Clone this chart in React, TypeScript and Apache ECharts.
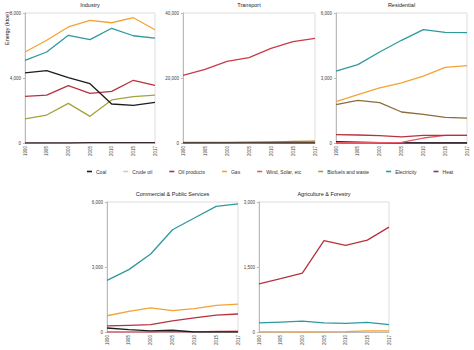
import React, { useEffect, useRef } from "react";
import * as echarts from "echarts";

const years = ["1990", "1995", "2000", "2005", "2010", "2015", "2017"];
const seriesNames = ["Coal", "Crude oil", "Oil products", "Gas", "Wind, Solar, etc", "Biofuels and waste", "Electricity", "Heat"];
const colors = ["#1c1c1c", "#cfcfbf", "#b8323e", "#f5a235", "#e35a68", "#a5a23a", "#2e9a9b", "#7b3f73"];

const panelTitles = ["Industry", "Transport", "Residential", "Commercial & Public Services", "Agriculture & Forestry"];
const yMax = [8000, 40000, 6000, 6000, 3000];

// Industry
const indCoal = [4310, 4450, 4020, 3650, 2400, 2320, 2500];
const indCrude = [20, 10, 0, 0, 0, 0, 0];
const indOil = [2870, 2950, 3530, 3060, 3180, 3860, 3550];
const indGas = [5600, 6320, 7140, 7550, 7400, 7710, 6970];
const indBio = [1480, 1720, 2440, 1640, 2650, 2850, 2950];
const indElec = [5090, 5600, 6630, 6360, 7060, 6600, 6460];
const indHeat = [0, 0, 0, 20, 20, 20, 20];

// Transport
const traCoal = [50, 30, 20, 10, 0, 0, 0];
const traOil = [20800, 22650, 25100, 26300, 29100, 31200, 32200];
const traGas = [0, 0, 20, 60, 80, 100, 120];
const traBio = [0, 0, 0, 100, 300, 500, 550];
const traElec = [150, 170, 200, 250, 260, 270, 300];

// Residential
const resCoal = [60, 40, 20, 10, 0, 0, 0];
const resOil = [385, 370, 340, 280, 350, 350, 350];
const resGas = [1910, 2230, 2540, 2770, 3090, 3490, 3570];
const resWind = [20, 20, 20, 30, 230, 350, 350];
const resBio = [1770, 1970, 1860, 1430, 1320, 1180, 1150];
const resElec = [3320, 3620, 4200, 4740, 5230, 5110, 5090];
const resHeat = [0, 0, 0, 0, 10, 10, 10];

// Commercial & Public Services
const comCoal = [185, 110, 50, 80, 0, 0, 0];
const comOil = [280, 310, 340, 510, 650, 780, 830];
const comGas = [750, 950, 1110, 990, 1080, 1230, 1290];
const comWind = [0, 0, 0, 20, 10, 30, 40];
const comElec = [2380, 2880, 3600, 4720, 5260, 5800, 5910];

// Agriculture & Forestry
const agrOil = [1110, 1230, 1360, 2110, 2000, 2120, 2420];
const agrGas = [5, 5, 0, 5, 10, 25, 25];
const agrElec = [210, 230, 250, 210, 200, 220, 170];

const grids = [
  { left: 25, top: 13, width: 130, height: 130 },
  { left: 183, top: 13, width: 132, height: 130 },
  { left: 336, top: 13, width: 131, height: 130 },
  { left: 107, top: 202, width: 131, height: 130 },
  { left: 259, top: 202, width: 130, height: 130 },
];

const panelData: [number, string, number[], string?][] = [
  [0, "Crude oil", indCrude],
  [0, "Heat", indHeat, "#3a2a30"],
  [0, "Biofuels and waste", indBio],
  [0, "Oil products", indOil],
  [0, "Coal", indCoal],
  [0, "Electricity", indElec],
  [0, "Gas", indGas],
  [1, "Gas", traGas],
  [1, "Biofuels and waste", traBio, "#b5862e"],
  [1, "Electricity", traElec],
  [1, "Coal", traCoal, "#5a2a20"],
  [1, "Oil products", traOil, "#c83a48"],
  [2, "Heat", resHeat],
  [2, "Coal", resCoal],
  [2, "Wind, Solar, etc", resWind],
  [2, "Oil products", resOil],
  [2, "Biofuels and waste", resBio, "#8c6d3c"],
  [2, "Gas", resGas],
  [2, "Electricity", resElec],
  [3, "Wind, Solar, etc", comWind],
  [3, "Coal", comCoal],
  [3, "Oil products", comOil],
  [3, "Gas", comGas],
  [3, "Electricity", comElec],
  [4, "Gas", agrGas],
  [4, "Electricity", agrElec],
  [4, "Oil products", agrOil],
];

export default function App() {
  const ref = useRef<HTMLDivElement>(null);
  useEffect(() => {
    if (!ref.current) return;
    const chart = echarts.init(ref.current, undefined, { renderer: "svg" });
    const fmt = (v: number) => v.toLocaleString("en-US");
    const xAxis = grids.map((_, i) => ({
      type: "category",
      gridIndex: i,
      data: years,
      boundaryGap: false,
      axisLine: { show: true, lineStyle: { color: "#bbb", width: 1 } },
      axisTick: { show: false },
      axisLabel: { rotate: 90, fontSize: 4.5, color: "#444", margin: 3, interval: 0, fontFamily: "Liberation Sans" },
      splitLine: { show: false },
    }));
    const yAxis = grids.map((_, i) => ({
      type: "value",
      gridIndex: i,
      min: 0,
      max: yMax[i],
      interval: yMax[i] / 2,
      axisLine: { show: true, lineStyle: { color: "#bbb", width: 1 } },
      axisTick: { show: true, length: 2, lineStyle: { color: "#bbb" } },
      axisLabel: { fontSize: 4.5, color: "#444", margin: 4, formatter: fmt, fontFamily: "Liberation Sans" },
      splitLine: { show: false },
    }));
    const series: any[] = panelData.map(([g, name, data, col]) => {
      const idx = seriesNames.indexOf(name);
      return {
        type: "line",
        name,
        xAxisIndex: g,
        yAxisIndex: g,
        data,
        symbol: "none",
        lineStyle: { width: 1.3, color: col || colors[idx] },
        itemStyle: { color: colors[idx] },
        z: 2,
      };
    });
    seriesNames.forEach((name, idx) => {
      series.push({
        type: "line",
        name,
        xAxisIndex: 0,
        yAxisIndex: 0,
        data: [],
        symbol: "none",
        lineStyle: { width: 1.3, color: colors[idx] },
        itemStyle: { color: colors[idx] },
      });
    });
    const titleGraphics = grids.map((g, i) => ({
      type: "text",
      x: g.left + g.width / 2,
      y: g.top - 8,
      style: {
        text: panelTitles[i],
        fontSize: 5.5,
        fill: "#222",
        textAlign: "center",
        textVerticalAlign: "middle",
        fontFamily: "Liberation Sans",
      },
    }));
    chart.setOption({
      animation: false,
      backgroundColor: "#fff",
      color: colors,
      grid: grids.map((g) => ({ ...g, show: true, borderColor: "#ddd", borderWidth: 1, backgroundColor: "transparent" })),
      xAxis,
      yAxis,
      legend: {
        data: seriesNames,
        left: 87,
        top: 169,
        width: 380,
        icon: "rect",
        itemWidth: 5,
        itemHeight: 1.6,
        itemGap: 17,
        padding: 0,
        textStyle: { fontSize: 5, color: "#333", fontFamily: "Liberation Sans", padding: [0, 0, 0, -1] },
        selectedMode: false,
      },
      graphic: [
        ...titleGraphics,
        {
          type: "text",
          x: 7,
          y: 12,
          rotation: Math.PI / 2,
          style: {
            text: "Energy (ktoe)",
            fontSize: 5.5,
            fill: "#222",
            textAlign: "right",
            textVerticalAlign: "middle",
            fontFamily: "Liberation Sans",
          },
        },
      ],
      series,
    });
    return () => chart.dispose();
  }, []);
  return <div ref={ref} style={{ position: "fixed", left: 0, top: 0, width: 474, height: 350 }} />;
}
